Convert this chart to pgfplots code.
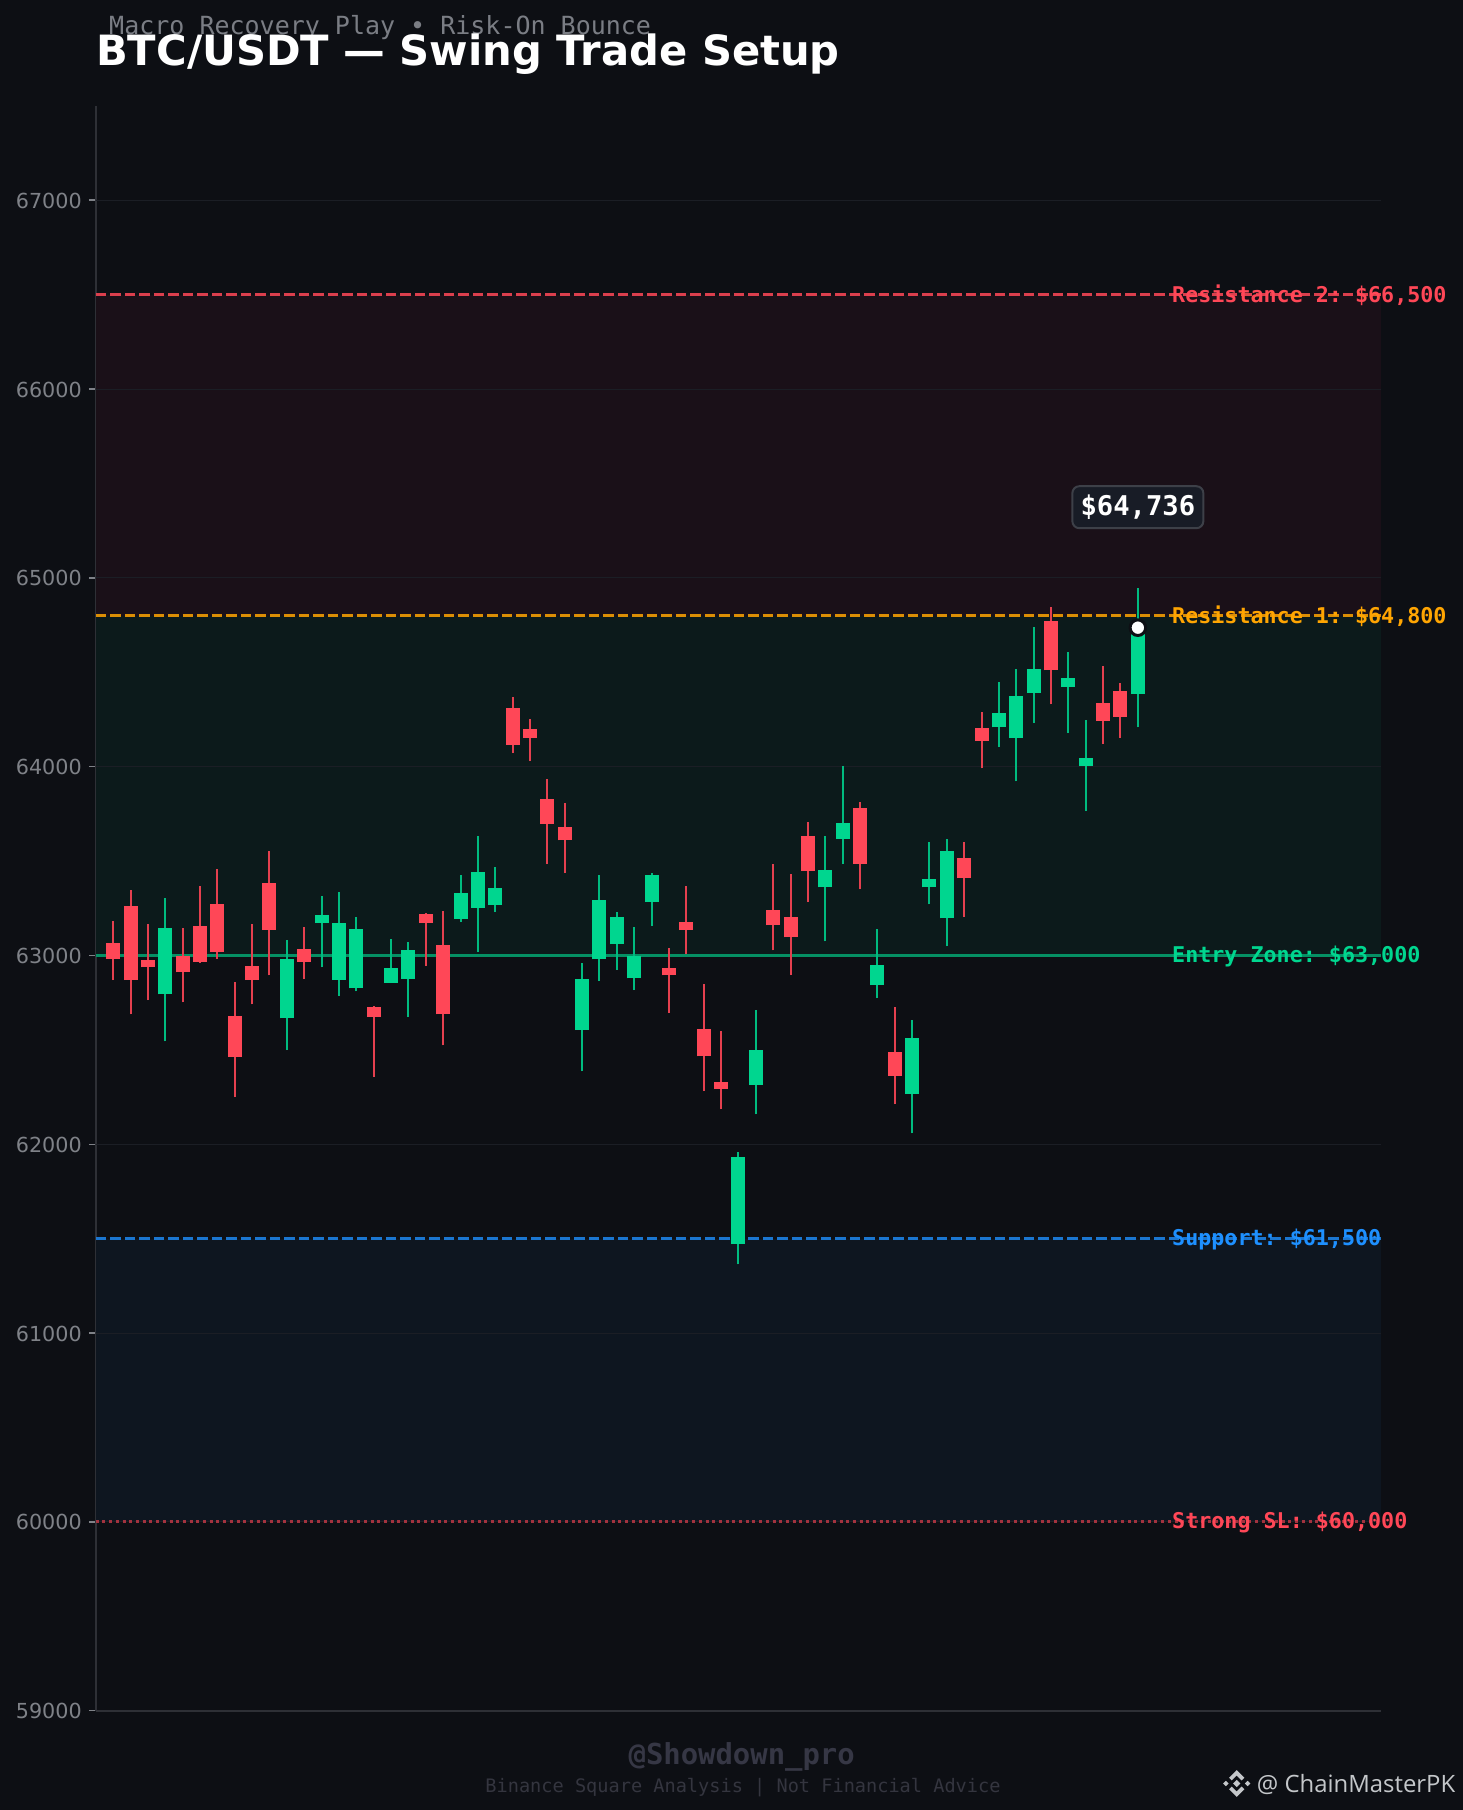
\documentclass[border=0pt]{standalone}
\usepackage{fontspec}
\usepackage{pgfplots}
\usepackage{pgfplotstable}
\pgfplotsset{compat=1.18}
\setmainfont{DejaVu Sans}
\newfontfamily\monof{DejaVu Sans Mono}
\newfontfamily\osans{Open Sans}
\definecolor{bg}{HTML}{0D0F14}
\definecolor{upc}{HTML}{00D68F}
\definecolor{dnc}{HTML}{FF4757}
\definecolor{upw}{HTML}{00BB7F}
\definecolor{dnw}{HTML}{E5404F}
\definecolor{orng}{HTML}{FFA502}
\definecolor{blu}{HTML}{1E90FF}
\definecolor{bandr}{HTML}{1A1018}
\definecolor{bandg}{HTML}{0C1A1B}
\definecolor{bandb}{HTML}{0E1620}
\definecolor{gridc}{HTML}{1B1E25}
\definecolor{spine}{HTML}{2E3036}
\definecolor{tickc}{HTML}{7F8288}
\definecolor{boxfill}{HTML}{181C26}
\definecolor{boxline}{HTML}{3D4048}
\definecolor{subc}{HTML}{7A7D84}
\definecolor{foota}{HTML}{363745}
\definecolor{footb}{HTML}{34353F}
\definecolor{wmk}{HTML}{C4C7CA}
\pgfplotstableread{
i low bl bh high
0 62869 62980 63065 63181
1 62688 62869 63261 63345
2 62763 62937 62975 63165
4 62752 62911 62996 63144
5 62960 62964 63155 63367
6 62980 63017 63271 63457
7 62249 62461 62678 62858
8 62741 62869 62943 63165
9 62895 63134 63383 63552
11 62874 62964 63033 63149
15 62355 62673 62726 62731
18 62943 63171 63218 63224
19 62524 62688 63054 63234
23 64071 64114 64310 64368
24 64029 64151 64198 64251
25 63484 63695 63827 63934
26 63436 63610 63679 63806
32 62694 62895 62933 63038
33 63006 63134 63176 63367
34 62282 62466 62608 62847
35 62185 62292 62328 62598
38 63027 63159 63239 63484
39 62899 63096 63203 63429
40 63283 63446 63630 63706
43 63350 63484 63779 63811
45 62212 62361 62487 62726
49 63203 63409 63515 63600
50 63991 64135 64204 64289
54 64330 64510 64770 64845
57 64119 64241 64336 64532
58 64151 64263 64399 64441
}\redT
\pgfplotstableread{
i low bl bh high
3 62545 62794 63144 63303
10 62498 62667 62980 63081
12 62937 63171 63213 63314
13 62784 62869 63171 63335
14 62810 62826 63139 63202
16 62853 62853 62932 63086
17 62673 62874 63028 63070
20 63176 63192 63330 63425
21 63017 63250 63441 63632
22 63229 63266 63356 63467
27 62386 62604 62874 62958
28 62864 62979 63293 63425
29 62923 63059 63203 63228
30 62816 62879 62996 63149
31 63155 63283 63425 63436
36 61364 61471 61932 61957
37 62158 62313 62497 62709
41 63075 63360 63450 63630
42 63484 63616 63700 64003
44 62774 62843 62948 63138
46 62057 62265 62562 62657
47 63270 63360 63404 63599
48 63048 63197 63553 63616
51 64103 64208 64283 64447
52 63922 64151 64372 64516
53 64230 64389 64516 64739
55 64178 64421 64468 64605
56 63764 64001 64044 64247
59 64208 64384 64736 64946
}\greenT
\newcommand{\fs}[1]{\fontsize{#1}{#1}\selectfont}
\newcommand{\candles}[3]{%
 \addplot[draw=none,mark=none,forget plot,error bars/.cd,y dir=plus,y explicit,error mark=none,
   error bar style={draw=#2,line width=2pt,solid}]
   table[x=i,y=low,y error plus expr=\thisrow{high}-\thisrow{low}] {#1};
 \addplot[draw=none,mark=none,forget plot,error bars/.cd,y dir=plus,y explicit,error mark=none,
   error bar style={draw=#3,line width=14pt,solid}]
   table[x=i,y=bl,y error plus expr=\thisrow{bh}-\thisrow{bl}] {#1};
}
\begin{document}
\frenchspacing
\begin{tikzpicture}[x=1pt,y=1pt]
\fill[bg] (0,0) rectangle (1463,1810);
\path[use as bounding box] (0,0) rectangle (1463,1810);
\begin{axis}[
  at={(95.8pt,99.3pt)},anchor=south west,
  scale only axis,width=1285.2pt,height=1605pt,
  xmin=-1,xmax=73,ymin=59000,ymax=67500,
  clip=false,
  axis x line=bottom,axis y line=left,
  axis line style={-,draw=spine,line width=2pt},
  xtick=\empty,
  ytick={59000,60000,61000,62000,63000,64000,65000,66000,67000},
  scaled y ticks=false,
  tick align=outside,
  major tick length=7pt,
  y tick style={draw=tickc,line width=1.5pt},
  yticklabel style={font=\fs{20.7},text=tickc,xshift=-3.5pt,yshift=-0.5pt},
  /pgf/number format/1000 sep={},
  /pgf/number format/assume math mode=true,
]
\addplot[fill=bandr,draw=none,forget plot] coordinates {(-1,64800) (73,64800) (73,66500) (-1,66500)} --cycle;
\addplot[fill=bandg,draw=none,forget plot] coordinates {(-1,63000) (73,63000) (73,64800) (-1,64800)} --cycle;
\addplot[fill=bandb,draw=none,forget plot] coordinates {(-1,60000) (73,60000) (73,61500) (-1,61500)} --cycle;
\pgfplotsinvokeforeach{60000,61000,62000,63000,64000,65000,66000,67000}{
  \addplot[gridc,line width=1pt,forget plot] coordinates {(-1,#1) (73,#1)};
}
\addplot[color=dnc!85!bg,line width=2.6pt,dash pattern=on 10.5pt off 4pt,forget plot] coordinates {(-1,66500) (73,66500)};
\addplot[color=orng!85!bg,line width=2.6pt,dash pattern=on 10.5pt off 4pt,forget plot] coordinates {(-1,64800) (73,64800)};
\addplot[color=upc!65!bg,line width=2.8pt,forget plot] coordinates {(-1,63000) (73,63000)};
\addplot[color=blu!80!bg,line width=2.6pt,dash pattern=on 10.5pt off 4pt,forget plot] coordinates {(-1,61500) (73,61500)};
\addplot[color=dnc!62!bg,line width=2.8pt,dash pattern=on 3pt off 3.7pt,forget plot] coordinates {(-1,60000) (73,60000)};
\candles{\redT}{dnw}{dnc}
\candles{\greenT}{upw}{upc}
\addplot[only marks,mark=*,mark size=7.8pt,mark options={fill=white,draw=bg,line width=3pt},forget plot] coordinates {(59,64736)};
\tikzset{lvl/.style={anchor=west,inner sep=0pt,yshift=-1pt,xshift=-0.6pt,font=\monof\bfseries\fs{21.7}}}
\node[lvl,text=dnc] at (axis cs:61,66500) {Resistance 2: \$66,500};
\node[lvl,text=orng] at (axis cs:61,64800) {Resistance 1: \$64,800};
\node[lvl,text=upc] at (axis cs:61,63000) {Entry Zone: \$63,000};
\node[lvl,text=blu] at (axis cs:61,61500) {Support: \$61,500};
\node[lvl,text=dnc] at (axis cs:61,60000) {Strong SL: \$60,000};
\node[fill=boxfill,draw=boxline,line width=2pt,rounded corners=7pt,text=white,minimum width=131pt,minimum height=42pt,inner sep=0pt,font=\monof\bfseries\fs{27.2}] at (axis cs:59,65374) {\$64,736};
\end{axis}
\node[anchor=base west,inner sep=0pt,text=subc,font=\monof\fs{25}] at (109,1775) {Macro Recovery Play • Risk-On Bounce};
\node[anchor=base west,inner sep=0pt,text=white,font=\bfseries\fs{41.7}] at (96,1744) {BTC/USDT — Swing Trade Setup};
\node[anchor=center,inner sep=0pt,text=foota,font=\monof\bfseries\fs{28.9}] at (741.7,53) {@Showdown\_pro};
\node[anchor=center,inner sep=0pt,text=footb,font=\monof\fs{18.6}] at (743,22) {Binance Square Analysis | Not Financial Advice};
\node[anchor=base west,inner sep=0pt,text=wmk,font=\osans\fs{23.9}] at (1256.7,17) {@ ChainMasterPK};
\begin{scope}[shift={(1236.7,26.5)}]
\fill[wmk] (0,3.6)--(3.6,0)--(0,-3.6)--(-3.6,0)--cycle;
\fill[wmk] (10.9,2.7)--(13.6,0)--(10.9,-2.7)--(8.2,0)--cycle;
\fill[wmk] (-10.9,2.7)--(-13.6,0)--(-10.9,-2.7)--(-8.2,0)--cycle;
\fill[wmk] (0,13.4)--(7.6,5.8)--(4.9,3.1)--(0,8)--(-4.9,3.1)--(-7.6,5.8)--cycle;
\fill[wmk] (0,-13.4)--(7.6,-5.8)--(4.9,-3.1)--(0,-8)--(-4.9,-3.1)--(-7.6,-5.8)--cycle;
\end{scope}
\end{tikzpicture}
\end{document}
